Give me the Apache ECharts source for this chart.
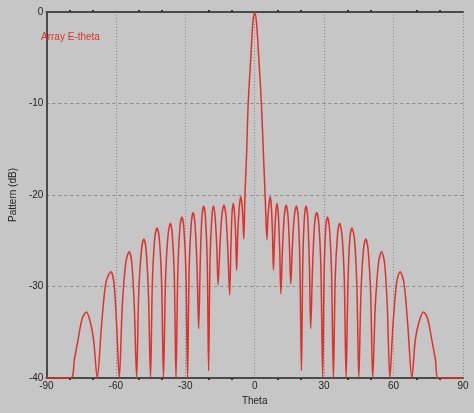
<!DOCTYPE html>
<html>
<head>
<meta charset="utf-8">
<script src="https://cdn.jsdelivr.net/npm/echarts@6/dist/echarts.min.js"></script>
<style>
    html, body { margin: 0; padding: 0; background: #c6c6c6; }
    #chart { width: 474px; height: 413px; }
</style>
</head>
<body>
<div id="chart"></div>
<script>
// values: angle (deg) and pattern level (dB), -40 is the floor
const theta = [
    -90, -79.5, -77.9, -76.3, -74.5, -72.7, -71.1, -69.6, -68.0,
    -66.2, -64.3, -62.1, -60.8, -59.6, -58.5,
    -57.2, -55.7, -54.2, -53.1, -52.0, -51.0,
    -50.1, -48.9, -47.9, -46.9, -45.9, -45.0,
    -44.2, -43.2, -42.2, -41.2, -40.2, -39.4,
    -38.5, -37.4, -36.4, -35.6, -34.7, -34.0,
    -33.2, -32.3, -31.4, -30.6, -29.7, -29.0,
    -28.3, -27.4, -26.6, -25.8, -24.9, -24.2,
    -23.5, -22.8, -22.0, -21.3, -20.5, -19.9,
    -19.3, -18.5, -17.8, -17.1, -16.4, -15.8,
    -15.0, -14.2, -13.3, -12.4, -11.6, -10.8,
    -10.3, -9.8, -9.2, -8.7, -8.2, -7.8,
    -7.3, -6.6, -6.0, -5.5, -5.1, -4.7,
    -4.2, -3.5, -2.8, -1.6, -0.8, 0, 0.8, 1.7, 2.9, 3.8, 4.5, 5.3,
    5.7, 6.2, 6.7, 7.2, 7.7, 8.1,
    8.6, 9.1, 9.6, 10.2, 10.8, 11.3,
    12.0, 12.8, 13.6, 14.4, 15.0, 15.6,
    16.3, 17.1, 18.0, 18.8, 19.5, 20.2,
    20.8, 21.5, 22.2, 22.9, 23.6, 24.2,
    25.0, 25.9, 26.8, 27.7, 28.6, 29.4,
    30.0, 30.7, 31.4, 32.3, 33.2, 34.0,
    34.8, 35.8, 36.7, 37.7, 38.7, 39.5,
    40.3, 41.1, 42.0, 43.1, 44.1, 45.0,
    45.9, 47.0, 48.0, 49.0, 50.1, 51.0,
    52.1, 53.5, 54.8, 56.1, 57.3, 58.4,
    59.7, 61.3, 62.8, 64.5, 66.2, 67.9,
    69.4, 71.1, 72.9, 74.7, 76.5, 78.1, 79.3, 90
]
const patternDb = [
    -40, -40, -38.0, -35.8, -33.5, -32.8, -33.8, -35.8, -40,
    -34.4, -29.6, -28.4, -29.6, -34.4, -40,
    -32.2, -27.4, -26.2, -27.4, -32.2, -40,
    -30.8, -26.0, -24.8, -26.0, -30.8, -40,
    -29.6, -24.8, -23.6, -24.8, -29.6, -40,
    -29.1, -24.3, -23.1, -24.3, -29.1, -40,
    -28.4, -23.6, -22.4, -23.6, -28.4, -40,
    -27.9, -23.1, -21.9, -23.1, -27.9, -34.6,
    -27.2, -22.4, -21.2, -22.4, -27.2, -39.2,
    -27.2, -22.4, -21.2, -22.4, -25.5, -29.8,
    -25.5, -22.3, -21.1, -22.3, -26.0, -30.9,
    -25.9, -22.1, -20.9, -22.0, -24.5, -28.2,
    -24.2, -21.2, -20.2, -21.0, -22.5, -24.8,
    -20, -15.6, -10, -4.7, -1.2, 0, -1.2, -4.7, -10, -15.6, -20, -24.9,
    -22.5, -21.0, -20.2, -21.2, -24.2, -28.2,
    -24.5, -22.0, -20.9, -22.1, -25.9, -30.8,
    -26.0, -22.3, -21.1, -22.3, -25.5, -29.7,
    -25.5, -22.4, -21.2, -22.4, -27.2, -39.2,
    -27.2, -22.4, -21.2, -22.4, -27.2, -34.6,
    -27.9, -23.1, -21.9, -23.1, -27.9, -40,
    -28.4, -23.6, -22.4, -23.6, -28.4, -40,
    -29.1, -24.3, -23.1, -24.3, -29.1, -40,
    -29.6, -24.8, -23.6, -24.8, -29.6, -40,
    -30.8, -26.0, -24.8, -26.0, -30.8, -40,
    -32.2, -27.4, -26.2, -27.4, -32.2, -40,
    -34.4, -29.6, -28.4, -29.6, -34.4, -40,
    -35.8, -33.8, -32.8, -33.5, -35.8, -38.0, -40, -40
]
const xTicks = [-90, -60, -30, 0, 30, 60, 90]
const yTicks = [-40, -30, -20, -10, 0]
const seriesName = 'Array E-theta'

const chart = echarts.init(document.getElementById('chart'))

const labelStyle = {
    color: '#222',
    fontSize: 10,
    fontFamily: 'Liberation Sans, Arial, sans-serif',
}

const thetaAxis = {
    type: 'value',
    min: xTicks[0],
    max: xTicks[xTicks.length - 1],
    interval: 30,
    axisLine: {
        onZero: false,
        lineStyle: { color: '#4a4a4a', width: 2 },
    },
    axisTick: { show: false },
    minorTick: {
        show: true,
        splitNumber: 3,
        length: 2,
        lineStyle: { color: '#333', width: 2 },
    },
}

chart.setOption({
    backgroundColor: '#c6c6c6',
    animation: false,
    legend: {
        data: [{ name: seriesName, icon: 'none' }],
        left: 31,
        top: 27,
        itemWidth: 0,
        itemHeight: 0,
        textStyle: {
            color: '#e0302c',
            fontSize: 10,
            fontFamily: 'Liberation Sans, Arial, sans-serif',
        },
    },
    grid: {
        left: 38,
        right: 11,
        top: 12,
        bottom: 35,
    },
    xAxis: [
        {
            ...thetaAxis,
            position: 'bottom',
            name: 'Theta',
            nameLocation: 'middle',
            nameGap: 14,
            nameTextStyle: labelStyle,
            axisLabel: {
                ...labelStyle,
                margin: 3,
            },
            splitLine: {
                show: true,
                lineStyle: { color: '#8a8a8a', type: [1, 2], width: 1 },
            },
        },
        {
            ...thetaAxis,
            position: 'top',
            axisLabel: { show: false },
            splitLine: { show: false },
        },
    ],
    yAxis: {
        type: 'value',
        min: yTicks[0],
        max: yTicks[yTicks.length - 1],
        interval: 10,
        name: 'Pattern (dB)',
        nameLocation: 'middle',
        nameGap: 26,
        nameTextStyle: labelStyle,
        axisLine: {
            show: true,
            onZero: false,
            lineStyle: { color: '#4a4a4a', width: 2 },
        },
        axisTick: { show: false },
        axisLabel: {
            ...labelStyle,
            margin: 3,
        },
        splitLine: {
            show: true,
            lineStyle: { color: '#8a8a8a', type: [3, 3], width: 1 },
        },
    },
    series: [
        {
            name: seriesName,
            type: 'line',
            xAxisIndex: 0,
            data: theta.map((t, i) => [t, patternDb[i]]),
            smooth: 0.3,
            symbol: 'none',
            clip: true,
            lineStyle: {
                color: '#e0302c',
                width: 1.5,
            },
            itemStyle: {
                color: '#e0302c',
            },
        },
    ],
})
</script>
</body>
</html>
